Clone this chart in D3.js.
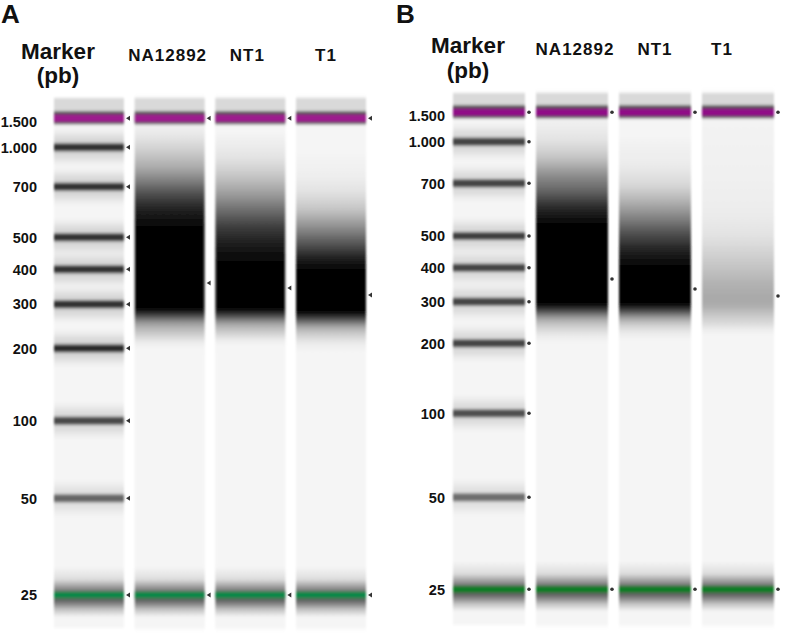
<!DOCTYPE html>
<html lang="en">
<head>
<meta charset="UTF-8">
<title>Gel</title>
<script src="https://d3js.org/d3.v7.min.js"></script>
<style>
  body { margin: 0; background: #fff; }
  text { font-family: "Liberation Sans", Arial, sans-serif; font-weight: bold; fill: #111; }
</style>
</head>
<body>
<div id="chart"></div>
<script>
// marker ladder (bp) and its tick labels
const markerSizes = [1500, 1000, 700, 500, 400, 300, 200, 100, 50, 25];
const markerLabels = ["1.500", "1.000", "700", "500", "400", "300", "200", "100", "50", "25"];
const samples = ["NA12892", "NT1", "T1"];

// relative migration of each ladder band (0 = well, 1 = end of lane)
const migrationA = [0.0383, 0.0930, 0.1674, 0.2628, 0.3232, 0.3892, 0.4723, 0.6089, 0.7553, 0.9377];
const migrationB = [0.0363, 0.0915, 0.1697, 0.2688, 0.3284, 0.3923, 0.4705, 0.6021, 0.7600, 0.9329];

// ladder band intensity (0..1)
const bandA = [1, 0.85, 0.85, 0.85, 0.85, 0.85, 0.88, 0.74, 0.6, 1];
const bandB = [1, 0.76, 0.76, 0.78, 0.76, 0.76, 0.76, 0.7, 0.56, 1];

// smear profiles: [relative migration, intensity]
const smearA_NA12892 = [[0.0453, 0], [0.0547, 0.02], [0.0792, 0.08], [0.1038, 0.18], [0.1302, 0.3], [0.1547, 0.47], [0.1792, 0.67], [0.2057, 0.84], [0.2302, 0.94], [0.2491, 1], [0.4000, 1], [0.4132, 0.75], [0.4208, 0.4], [0.4321, 0.28], [0.4509, 0.12], [0.4660, 0]];
const smearA_NT1 = [[0.0642, 0], [0.0792, 0.02], [0.1170, 0.08], [0.1491, 0.2], [0.1792, 0.35], [0.2113, 0.55], [0.2434, 0.75], [0.2736, 0.88], [0.3057, 0.97], [0.3245, 1], [0.4000, 1], [0.4132, 0.75], [0.4226, 0.35], [0.4434, 0.15], [0.4604, 0]];
const smearA_T1 = [[0.0981, 0], [0.1415, 0.02], [0.1792, 0.08], [0.2113, 0.2], [0.2434, 0.42], [0.2679, 0.6], [0.2925, 0.8], [0.3113, 0.94], [0.3302, 1], [0.4057, 1], [0.4189, 0.75], [0.4283, 0.35], [0.4434, 0.18], [0.4604, 0.05], [0.4755, 0]];
const smearB_NA12892 = [[0.0414, 0], [0.0545, 0.02], [0.0921, 0.08], [0.1222, 0.2], [0.1541, 0.42], [0.1861, 0.6], [0.2105, 0.8], [0.2350, 0.94], [0.2538, 1], [0.3985, 1], [0.4117, 0.75], [0.4211, 0.35], [0.4361, 0.18], [0.4492, 0.08], [0.4643, 0]];
const smearB_NT1 = [[0.0789, 0], [0.1353, 0.04], [0.1729, 0.12], [0.2049, 0.28], [0.2350, 0.47], [0.2669, 0.7], [0.2989, 0.88], [0.3233, 0.97], [0.3421, 1], [0.3985, 1], [0.4117, 0.75], [0.4211, 0.35], [0.4361, 0.15], [0.4492, 0.05], [0.4605, 0]];
const smearB_T1 = [[0.0602, 0.01], [0.1673, 0.02], [0.2293, 0.04], [0.2726, 0.08], [0.3045, 0.15], [0.3365, 0.22], [0.3609, 0.28], [0.3929, 0.32], [0.4041, 0.28], [0.4173, 0.18], [0.4323, 0.12], [0.4492, 0]];

// called peak of each sample (relative migration)
const peakA = [0.349, 0.3585, 0.3717];
const peakB = [0.3496, 0.3684, 0.3816];

const width = 785, height = 633;
const laneBg = "#f5f5f5";
const shade = d3.interpolateRgb(laneBg, "#000");

const svg = d3.select("#chart").append("svg").attr("width", width).attr("height", height);
const defs = svg.append("defs");

defs.append("filter").attr("id", "soft")
    .attr("x", "-10%").attr("y", "-5%").attr("width", "120%").attr("height", "110%")
  .append("feGaussianBlur").attr("stdDeviation", "1 1.5");
defs.append("filter").attr("id", "haze")
    .attr("x", "-10%").attr("y", "-100%").attr("width", "120%").attr("height", "300%")
  .append("feGaussianBlur").attr("stdDeviation", "0.5 4");
defs.append("filter").attr("id", "smearBlur")
    .attr("x", "0%").attr("y", "-2%").attr("width", "100%").attr("height", "104%")
  .append("feGaussianBlur").attr("stdDeviation", "0 3.5");

const panels = [
  { id: "A", x0: 0, top: 98, bottom: 628, lanes: [54, 366], gap: 0.1326,
    migration: migrationA, band: bandA, smears: [smearA_NA12892, smearA_NT1, smearA_T1], peaks: peakA,
    magenta: "#9d1b8e", green: "#11884a", mark: "triangle",
    markerX: 58, markerY: 58.5, pbY: 82.5, sampleY: 61, sampleShift: [-2, -3, -5], tickX: 37 },
  { id: "B", x0: 395, top: 93, bottom: 625, lanes: [453, 774], gap: 0.1326,
    migration: migrationB, band: bandB, smears: [smearB_NA12892, smearB_NT1, smearB_T1], peaks: peakB,
    magenta: "#900e87", green: "#0b7b27", mark: "dot",
    markerX: 73, markerY: 53, pbY: 77.5, sampleY: 55, sampleShift: [3, 0, -16], tickX: 50 }
];

panels.forEach(drawPanel);

function drawPanel(p) {
  const y = d3.scaleLinear().domain([0, 1]).range([p.top, p.bottom]);
  const x = d3.scaleBand().domain(["Marker", ...samples]).range(p.lanes)
    .paddingInner(p.gap).paddingOuter(0);
  const bw = x.bandwidth();
  const g = svg.append("g");

  // smear gradients (colour stops, padded with background at both ends)
  samples.forEach((s, i) => {
    const grad = defs.append("linearGradient").attr("id", `smear-${p.id}-${i}`)
      .attr("x1", 0).attr("y1", 0).attr("x2", 0).attr("y2", 1);
    grad.selectAll("stop").data(p.smears[i]).join("stop")
      .attr("offset", d => d[0])
      .attr("stop-color", d => shade(d[1]));
  });
  const halo = defs.append("linearGradient").attr("id", `halo25-${p.id}`)
    .attr("x1", 0).attr("y1", 0).attr("x2", 0).attr("y2", 1);
  halo.selectAll("stop").data([[0, 0], [0.25, 0.12], [0.45, 0.55], [0.55, 0.8], [0.68, 0.7], [0.85, 0.25], [1, 0]]).join("stop")
    .attr("offset", d => d[0]).attr("stop-color", "#2a2a2a").attr("stop-opacity", d => d[1]);

  ["Marker", ...samples].forEach((lane, li) => {
    const lx = x(lane);
    const lg = g.append("g").attr("filter", "url(#soft)");
    lg.append("rect").attr("x", lx).attr("y", p.top).attr("width", bw)
      .attr("height", p.bottom - p.top).attr("fill", laneBg);
    if (li > 0) {
      lg.append("rect").attr("x", lx).attr("y", p.top).attr("width", bw)
        .attr("height", p.bottom - p.top)
        .attr("fill", `url(#smear-${p.id}-${li - 1})`)
        .attr("filter", "url(#smearBlur)");
    }
    lg.append("rect").attr("x", lx).attr("y", p.top).attr("width", bw)
      .attr("height", 14).attr("fill", "#bdbdbd").attr("opacity", 0.5);
    const idx = li === 0 ? d3.range(markerSizes.length) : [0, markerSizes.length - 1];
    idx.forEach(k => {
      const by = y(p.migration[k]);
      if (k === 0) {
        lg.append("rect").attr("x", lx).attr("y", by - 7).attr("width", bw).attr("height", 13)
          .attr("fill", "#333").attr("opacity", 0.85);
        lg.append("rect").attr("x", lx).attr("y", by - 4).attr("width", bw).attr("height", 8)
          .attr("fill", p.magenta);
      } else if (k === markerSizes.length - 1) {
        lg.append("rect").attr("x", lx).attr("y", by - 28).attr("width", bw).attr("height", 50)
          .attr("fill", `url(#halo25-${p.id})`);
        lg.append("rect").attr("x", lx).attr("y", by - 3.5).attr("width", bw).attr("height", 7)
          .attr("fill", p.green);
      } else {
        lg.append("rect").attr("x", lx).attr("y", by - 12).attr("width", bw).attr("height", 24)
          .attr("fill", "#000").attr("opacity", p.band[k] * 0.16).attr("filter", "url(#haze)");
        lg.append("rect").attr("x", lx).attr("y", by - 4).attr("width", bw).attr("height", 8)
          .attr("fill", "#000").attr("opacity", p.band[k] * 0.9);
      }
      drawMark(lx + bw + 4, by, p.mark);
    });
    if (li > 0) drawMark(lx + bw + 4, y(p.peaks[li - 1]), p.mark);
  });

  function drawMark(mx, my, type) {
    if (type === "triangle") {
      g.append("path").attr("d", `M${mx - 2},${my} L${mx + 2},${my - 2.5} L${mx + 2},${my + 2.5} Z`)
        .attr("fill", "#333");
    } else {
      g.append("circle").attr("cx", mx).attr("cy", my).attr("r", 1.8).attr("fill", "#333");
    }
  }

  // tick labels
  g.selectAll("text.tick").data(markerLabels).join("text")
    .attr("class", "tick")
    .attr("x", p.x0 + p.tickX)
    .attr("y", (d, i) => y(p.migration[i]) + (i === 0 ? 3 : 0))
    .attr("dy", "0.36em")
    .attr("text-anchor", "end")
    .style("font-size", "14.5px")
    .text(d => d);

  // titles
  g.append("text").attr("x", p.x0 + 1).attr("y", 23).style("font-size", "26px").text(p.id);
  g.append("text").attr("x", p.x0 + p.markerX).attr("y", p.markerY).attr("text-anchor", "middle")
    .style("font-size", "22.5px").text("Marker");
  g.append("text").attr("x", p.x0 + p.markerX).attr("y", p.pbY).attr("text-anchor", "middle")
    .style("font-size", "22.5px").text("(pb)");
  g.selectAll("text.sample").data(samples).join("text")
    .attr("class", "sample")
    .attr("x", (d, i) => x(d) + bw / 2 + p.sampleShift[i])
    .attr("y", p.sampleY)
    .attr("text-anchor", "middle")
    .style("font-size", "17px")
    .style("letter-spacing", "1px")
    .text(d => d);
}
</script>
</body>
</html>
